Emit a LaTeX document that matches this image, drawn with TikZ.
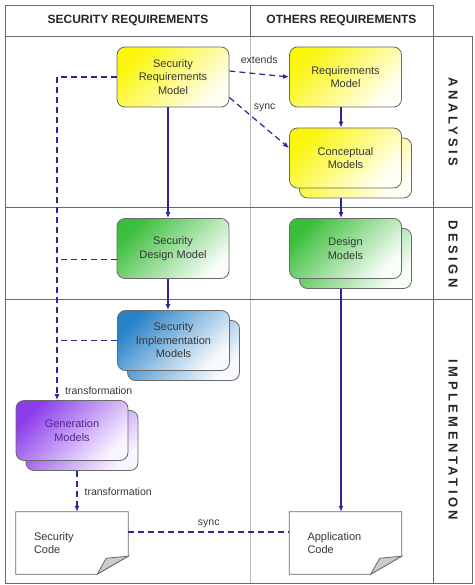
\documentclass[tikz,border=0pt]{standalone}
\usepackage{fontspec}
\setmainfont{Liberation Sans}
\usetikzlibrary{arrows.meta,calc}

\definecolor{flowblue}{RGB}{40,40,150}
\definecolor{framegray}{RGB}{105,105,105}
\definecolor{lanegray}{RGB}{185,185,185}
\definecolor{textgray}{RGB}{55,55,55}
\definecolor{yellowtop}{RGB}{250,245,10}
\definecolor{yellowbot}{RGB}{255,255,245}
\definecolor{greentop}{RGB}{60,190,60}
\definecolor{greenbot}{RGB}{248,253,248}
\definecolor{bluetop}{RGB}{40,130,200}
\definecolor{bluebot}{RGB}{248,250,253}
\definecolor{purpletop}{RGB}{140,60,235}
\definecolor{purplebot}{RGB}{248,245,255}
\definecolor{purpletext}{RGB}{80,40,140}

\begin{document}
\begin{tikzpicture}[x=1pt,y=-1pt,
    model/.style={draw=framegray, line width=0.8pt, rounded corners=8pt,
      minimum width=112pt, minimum height=60pt, align=center, inner sep=2pt,
      text=textgray, font=\fontsize{11}{13.5}\selectfont},
    yellowfill/.style={top color=yellowtop, middle color=yellowtop!30!white,
      bottom color=yellowbot, shading angle=45},
    greenfill/.style={top color=greentop, middle color=greentop!28!white,
      bottom color=greenbot, shading angle=45},
    bluefill/.style={top color=bluetop, middle color=bluetop!32!white,
      bottom color=bluebot, shading angle=45},
    purplefill/.style={top color=purpletop, middle color=purpletop!32!white,
      bottom color=purplebot, shading angle=45},
    doc/.style={minimum width=112pt, minimum height=62pt, text width=76pt,
      inner xsep=18pt, align=left, text=textgray, font=\fontsize{11}{13.5}\selectfont},
    docline/.style={draw=framegray, line width=0.8pt, fill=white},
    flow/.style={draw=flowblue, line width=1.2pt, -{Latex[length=6pt,width=5pt]}},
    trace/.style={draw=flowblue, line width=1.2pt, dash pattern=on 6pt off 4pt},
    lbl/.style={text=textgray, font=\fontsize{10.5}{12}\selectfont, inner sep=1pt},
    headtext/.style={text=black!85, font=\bfseries\fontsize{12}{12}\selectfont},
    phase/.style={rotate=-90, text=black!85,
      font=\bfseries\fontsize{13}{13}\selectfont\addfontfeature{LetterSpace=27}}]
  \useasboundingbox (0,0) rectangle (474,585);

  % lanes
  \draw[framegray, line width=0.8pt] (5,5) rectangle (433,36);
  \draw[framegray, line width=0.8pt] (250,5) -- (250,36);
  \draw[lanegray, line width=0.8pt] (250,36) -- (250,583);
  \draw[framegray, line width=0.8pt] (5,36) rectangle (472,583);
  \draw[framegray, line width=0.8pt] (433,36) -- (433,583);
  \draw[framegray, line width=0.8pt] (5,207) -- (472,207);
  \draw[framegray, line width=0.8pt] (5,299) -- (472,299);

  \node[headtext] (sechead) at (128,20) {SECURITY REQUIREMENTS};
  \node[headtext] (othhead) at (341.5,20) {OTHERS REQUIREMENTS};
  \node[phase] (analysis) at (453,122) {ANALYSIS};
  \node[phase] (design) at (453,254) {DESIGN};
  \node[phase] (impl) at (453,440) {IMPLEMENTATION};

  % models
  \node[model, yellowfill] (srm) at (173,77) {Security\\Requirements\\Model};
  \node[model, yellowfill] (rm) at (345.5,77) {Requirements\\Model};
  \node[model, yellowfill] (cm shadow) at (355.5,168) {};
  \node[model, yellowfill] (cm) at (345.5,158) {Conceptual\\Models};
  \node[model, greenfill] (sdm) at (173,248.5) {Security\\Design Model};
  \node[model, greenfill] (dm shadow) at (355.5,258.5) {};
  \node[model, greenfill] (dm) at (345.5,248.5) {Design\\Models};
  \node[model, bluefill] (sim shadow) at (183.5,350.5) {};
  \node[model, bluefill] (sim) at (173.5,340.5) {Security\\Implementation\\Models};
  \node[model, purplefill] (gm shadow) at (82,440.5) {};
  \node[model, purplefill, text=purpletext] (gm) at (72,430.5) {Generation\\Models};

  % code documents
  \node[doc] (sc) at (72,543) {};
  \node[doc] (ac) at (345.5,543) {};
  \foreach \d in {sc,ac} {
    \draw[docline] (\d.north west) -- (\d.north east) -- ([yshift=18pt]\d.south east)
      -- ([xshift=-31pt]\d.south east) -- (\d.south west) -- cycle;
    \draw[docline, fill=gray!40] ([yshift=18pt]\d.south east)
      -- ([xshift=-22pt,yshift=16pt]\d.south east) -- ([xshift=-31pt]\d.south east) -- cycle;
  }
  \node[doc] (sctext) at (sc) {Security\\Code};
  \node[doc] (actext) at (ac) {Application\\Code};

  % axes of the solid flows
  \coordinate (leftaxis) at (168,0);
  \coordinate (rightaxis) at (341,0);
  \coordinate (trunk) at (57,0);

  \draw[flow] (srm.south -| leftaxis) -- (sdm.north -| leftaxis);
  \draw[flow] (sdm.south -| leftaxis) -- (sim.north -| leftaxis);
  \draw[flow] (rm.south -| rightaxis) -- (cm.north -| rightaxis);
  \draw[flow] (cm shadow.south -| rightaxis) -- (dm.north -| rightaxis);
  \draw[flow] (dm shadow.south -| rightaxis) -- (ac.north -| rightaxis);

  % dashed links
  \draw[trace, -{Latex[length=6pt,width=5pt]}] ([yshift=6pt]srm.east) -- (rm.west)
    node[lbl, midway, above=9pt] {extends};
  \draw[trace, -{Latex[length=6pt,width=5pt]}] (srm.-20) -- (cm.170)
    node[lbl, pos=0.35, above right=2pt] {sync};
  \draw[trace, -{Latex[length=6pt,width=5pt]}] (srm.west) -| (gm.north -| trunk);
  \draw[trace] ([yshift=-11pt]sdm.west) -- ([yshift=-11pt]sdm.west -| trunk);
  \draw[trace] (sim.west) -- (sim.west -| trunk);
  \node[lbl, anchor=west] (trans1) at (64,391) {transformation};
  \draw[trace, -{Latex[length=6pt,width=5pt]}] ([xshift=-5pt]gm shadow.south) -- ([xshift=5pt]sc.north)
    node[lbl, midway, right=6pt] {transformation};
  \draw[trace] ([yshift=11pt]sc.east) -- ([yshift=11pt]ac.west)
    node[lbl, midway, above=3pt] {sync};
\end{tikzpicture}
\end{document}
